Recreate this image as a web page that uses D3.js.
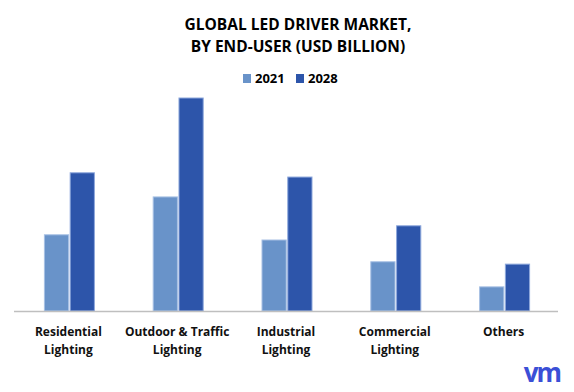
<!DOCTYPE html>
<html>
<head>
<meta charset="utf-8">
<script src="https://cdn.jsdelivr.net/npm/d3@7"></script>
<style>
  body { margin: 0; background: #fff; }
  text { font-family: "Open Sans", sans-serif; }
</style>
</head>
<body>
<svg id="chart" width="574" height="392"></svg>
<script>
// chart data (USD billion)
const categories = [
    ["Residential", "Lighting"],
    ["Outdoor & Traffic", "Lighting"],
    ["Industrial", "Lighting"],
    ["Commercial", "Lighting"],
    ["Others"]
];
const years = ["2021", "2028"];
const values_2021 = [1.61, 2.41, 1.50, 1.04, 0.51];
const values_2028 = [2.92, 4.50, 2.83, 1.80, 0.99];

const width = 574;
const height = 392;
const colors = { "2021": "#6993c9", "2028": "#2d55aa" };
const strokes = { "2021": "#a7c0e4", "2028": "#8ea8dc" };

const svg = d3.select("#chart");

// title
svg.append("text")
    .attr("x", 298).attr("y", 30)
    .attr("text-anchor", "middle")
    .style("font-size", "15.5px").style("font-weight", "bold")
    .text("GLOBAL LED DRIVER MARKET,");
svg.append("text")
    .attr("x", 298).attr("y", 52)
    .attr("text-anchor", "middle")
    .style("font-size", "15.5px").style("font-weight", "bold")
    .text("BY END-USER (USD BILLION)");

// legend
const legend = svg.append("g");
const legend_x = [243, 296];
years.forEach((y, i) => {
    legend.append("rect")
        .attr("x", legend_x[i]).attr("y", 74)
        .attr("width", 8).attr("height", 9)
        .attr("fill", colors[y]);
    legend.append("text")
        .attr("x", legend_x[i] + 12).attr("y", 83)
        .style("font-size", "13px").style("font-weight", "bold")
        .text(y);
});

const x_scale = d3.scaleBand()
    .domain(d3.range(categories.length))
    .range([14, 558]);

const x_inner = d3.scaleBand()
    .domain(years)
    .range([x_scale.bandwidth() / 2 - 24, x_scale.bandwidth() / 2 + 26])
    .paddingInner(0.06);

const y_scale = d3.scaleLinear()
    .domain([0, 4.5])
    .range([311, 98]);

const rows = categories.map((c, i) => ({ i: i, "2021": values_2021[i], "2028": values_2028[i] }));

const groups = svg.append("g")
    .selectAll("g")
    .data(rows)
    .join("g")
    .attr("transform", d => `translate(${x_scale(d.i)},0)`);

groups.selectAll("rect")
    .data(d => years.map(y => ({ year: y, value: d[y] })))
    .join("rect")
    .attr("x", d => x_inner(d.year))
    .attr("width", x_inner.bandwidth())
    .attr("y", d => y_scale(d.value))
    .attr("height", d => y_scale(0) - y_scale(d.value))
    .attr("fill", d => colors[d.year])
    .attr("stroke", d => strokes[d.year])
    .attr("stroke-width", 1);

// baseline
svg.append("line")
    .attr("x1", 14).attr("x2", 558)
    .attr("y1", y_scale(0) + 0.5).attr("y2", y_scale(0) + 0.5)
    .attr("stroke", "#bfbfbf")
    .attr("stroke-width", 1.5);

// category labels
const labels = svg.append("g")
    .selectAll("text")
    .data(categories)
    .join("text")
    .attr("text-anchor", "middle")
    .attr("transform", (d, i) => `translate(${x_scale(i) + x_scale.bandwidth() / 2},336)`)
    .style("font-size", "12px").style("font-weight", "bold")
    .style("fill", "#111");

labels.selectAll("tspan")
    .data(d => d)
    .join("tspan")
    .attr("x", 0)
    .attr("dy", (d, i) => i === 0 ? 0 : 18)
    .text(d => d);

// logo
svg.append("text")
    .attr("x", 542).attr("y", 382)
    .attr("text-anchor", "middle")
    .style("font-size", "26px").style("font-weight", "bold")
    .style("fill", "#3b4fd6")
    .style("letter-spacing", "-2px")
    .text("vm");
</script>
</body>
</html>
